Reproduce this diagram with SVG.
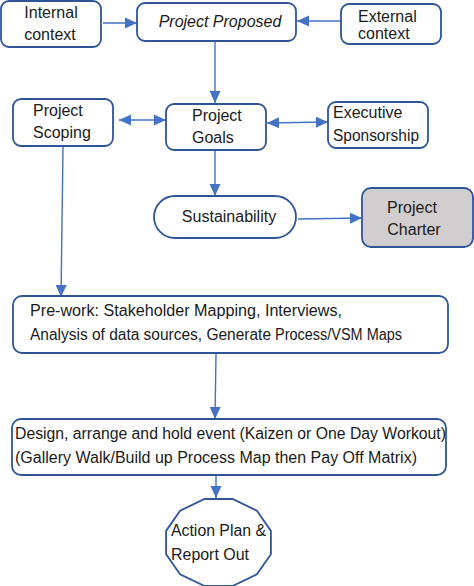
<svg xmlns="http://www.w3.org/2000/svg" width="474" height="586" viewBox="0 0 474 586">
<style>
.box{fill:#fff;stroke:#2f5597;stroke-width:1.8}
.grey{fill:#d0cece;stroke:#2f5597;stroke-width:1.8}
.t{font-family:"Liberation Sans",Arial,sans-serif;font-size:16px;fill:#1a1a1a}
.c{stroke:#4472c4;stroke-width:1.4;fill:none}
</style>
<defs>
<marker id="ah" markerUnits="userSpaceOnUse" markerWidth="13" markerHeight="13" viewBox="0 0 13 13" refX="12" refY="6.5" orient="auto-start-reverse">
<path d="M0,1 L12,6.5 L0,12 Z" fill="#4472c4"/>
</marker>
</defs>
<rect width="474" height="586" fill="#fff"/>
<g id="connectors">
<line class="c" x1="103" y1="23" x2="137" y2="23" marker-end="url(#ah)"/>
<line class="c" x1="341" y1="21" x2="297" y2="21" marker-end="url(#ah)"/>
<line class="c" x1="215" y1="42" x2="215" y2="103" marker-end="url(#ah)"/>
<line class="c" x1="119" y1="120" x2="166" y2="120" marker-start="url(#ah)" marker-end="url(#ah)"/>
<line class="c" x1="267" y1="123" x2="328" y2="122" marker-start="url(#ah)" marker-end="url(#ah)"/>
<line class="c" x1="215" y1="151" x2="215" y2="196" marker-end="url(#ah)"/>
<line class="c" x1="298" y1="219" x2="362" y2="218" marker-end="url(#ah)"/>
<line class="c" x1="63" y1="147" x2="61" y2="297" marker-end="url(#ah)"/>
<line class="c" x1="216" y1="354" x2="215" y2="419" marker-end="url(#ah)"/>
<line class="c" x1="216" y1="476" x2="216" y2="498" marker-end="url(#ah)"/>
</g>
<g id="internal">
<rect class="box" x="1" y="1" width="100" height="46" rx="8"/>
<text class="t" x="51" y="18" text-anchor="middle">Internal</text>
<text class="t" x="50" y="40" text-anchor="middle">context</text>
</g>
<g id="proposed">
<rect class="box" x="137" y="3" width="159" height="38" rx="8"/>
<text class="t" x="220" y="27" text-anchor="middle" font-style="italic">Project Proposed</text>
</g>
<g id="external">
<rect class="box" x="341" y="4" width="100" height="40" rx="8"/>
<text class="t" x="358" y="22">External</text>
<text class="t" x="358" y="39">context</text>
</g>
<g id="scoping">
<rect class="box" x="13" y="99" width="100" height="47" rx="8"/>
<text class="t" x="33" y="116">Project</text>
<text class="t" x="33" y="138">Scoping</text>
</g>
<g id="goals">
<rect class="box" x="166" y="104" width="100" height="46" rx="8"/>
<text class="t" x="192" y="121">Project</text>
<text class="t" x="192" y="143">Goals</text>
</g>
<g id="exec">
<rect class="box" x="328" y="102" width="100" height="46" rx="8"/>
<text class="t" x="333" y="118">Executive</text>
<text class="t" x="333" y="141" textLength="86" lengthAdjust="spacingAndGlyphs">Sponsorship</text>
</g>
<g id="sustainability">
<rect class="box" x="154" y="196" width="142" height="42" rx="21"/>
<text class="t" x="229" y="222" text-anchor="middle">Sustainability</text>
</g>
<g id="charter">
<rect class="grey" x="362" y="188" width="111" height="59" rx="9"/>
<text class="t" x="412" y="213" text-anchor="middle">Project</text>
<text class="t" x="414" y="235" text-anchor="middle">Charter</text>
</g>
<g id="prework">
<rect class="box" x="13" y="296" width="435" height="57" rx="9"/>
<text class="t" x="30" y="316" textLength="312" lengthAdjust="spacingAndGlyphs">Pre-work: Stakeholder Mapping, Interviews,</text>
<text class="t" x="30" y="340" textLength="241" lengthAdjust="spacingAndGlyphs">Analysis of data sources, Generate</text>
<text class="t" x="275" y="340" font-size="14" textLength="127" lengthAdjust="spacingAndGlyphs">Process/VSM Maps</text>
</g>
<g id="design">
<rect class="box" x="12" y="419" width="434" height="56" rx="9"/>
<text class="t" x="15" y="439" textLength="431" lengthAdjust="spacingAndGlyphs">Design, arrange and hold event (Kaizen or One Day Workout)</text>
<text class="t" x="15" y="463" textLength="402" lengthAdjust="spacingAndGlyphs">(Gallery Walk/Build up Process Map then Pay Off Matrix)</text>
</g>
<g id="action">
<polygon class="box" points="270.9,554.2 256.9,574.3 232.6,586 204.5,586 180.1,574.3 166.1,554.2 166.1,530.9 180.1,510.7 204.5,499 232.6,499 256.9,510.7 270.9,530.9"/>
<text class="t" x="171" y="536" textLength="95" lengthAdjust="spacingAndGlyphs">Action Plan &amp;</text>
<text class="t" x="171" y="560" textLength="78" lengthAdjust="spacingAndGlyphs">Report Out</text>
</g>
</svg>
